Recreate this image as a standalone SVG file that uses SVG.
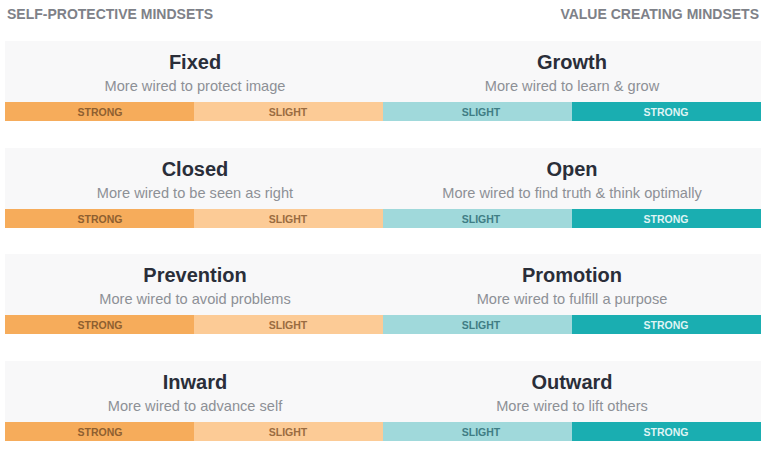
<svg xmlns="http://www.w3.org/2000/svg" width="768" height="450" viewBox="0 0 768 450">
<style>
.card{fill:#f8f8f9}
.hdr{font-family:"Liberation Sans",Arial,sans-serif;font-weight:bold;font-size:14px;fill:#7e8188}
.title{font-family:"Liberation Sans",Arial,sans-serif;font-weight:bold;font-size:20px;fill:#2a2e39;text-anchor:middle}
.sub{font-family:"Liberation Sans",Arial,sans-serif;font-size:14.6px;fill:#8d9096;text-anchor:middle}
.lbl{font-family:"Liberation Sans",Arial,sans-serif;font-weight:bold;font-size:10.5px;text-anchor:middle}
.so{fill:#f6ac5b}.lo{fill:#fccb96}.lt{fill:#a0d9db}.st{fill:#1aaeb1}
.tso{fill:#8e5f30}.tlo{fill:#9a6c40}.tlt{fill:#3f7d84}.tst{fill:#dff4f4}
</style>
<defs>
<g id="left">
<rect class="card" x="5" y="0" width="378" height="80"/>
<rect class="so" x="5" y="61" width="189" height="19"/>
<rect class="lo" x="194" y="61" width="189" height="19"/>
<text class="lbl tso" x="100" y="75">STRONG</text>
<text class="lbl tlo" x="288" y="75">SLIGHT</text>
</g>
<g id="right">
<rect class="card" x="383" y="0" width="378" height="80"/>
<rect class="lt" x="383" y="61" width="189" height="19"/>
<rect class="st" x="572" y="61" width="189" height="19"/>
<text class="lbl tlt" x="481" y="75">SLIGHT</text>
<text class="lbl tst" x="666" y="75">STRONG</text>
</g>
</defs>
<rect width="768" height="450" fill="#ffffff"/>
<text class="hdr" x="7" y="19">SELF-PROTECTIVE MINDSETS</text>
<text class="hdr" x="759" y="19" text-anchor="end">VALUE CREATING MINDSETS</text>
<g id="connectors"/>
<g id="fixed" transform="translate(0,41)">
<use href="#left"/>
<text class="title" x="195" y="28">Fixed</text>
<text class="sub" x="195" y="50">More wired to protect image</text>
</g>
<g id="growth" transform="translate(0,41)">
<use href="#right"/>
<text class="title" x="572" y="28">Growth</text>
<text class="sub" x="572" y="50">More wired to learn &amp; grow</text>
</g>
<g id="closed" transform="translate(0,148)">
<use href="#left"/>
<text class="title" x="195" y="28">Closed</text>
<text class="sub" x="195" y="50">More wired to be seen as right</text>
</g>
<g id="open" transform="translate(0,148)">
<use href="#right"/>
<text class="title" x="572" y="28">Open</text>
<text class="sub" x="572" y="50">More wired to find truth &amp; think optimally</text>
</g>
<g id="prevention" transform="translate(0,254)">
<use href="#left"/>
<text class="title" x="195" y="28">Prevention</text>
<text class="sub" x="195" y="50">More wired to avoid problems</text>
</g>
<g id="promotion" transform="translate(0,254)">
<use href="#right"/>
<text class="title" x="572" y="28">Promotion</text>
<text class="sub" x="572" y="50">More wired to fulfill a purpose</text>
</g>
<g id="inward" transform="translate(0,361)">
<use href="#left"/>
<text class="title" x="195" y="28">Inward</text>
<text class="sub" x="195" y="50">More wired to advance self</text>
</g>
<g id="outward" transform="translate(0,361)">
<use href="#right"/>
<text class="title" x="572" y="28">Outward</text>
<text class="sub" x="572" y="50">More wired to lift others</text>
</g>
</svg>
